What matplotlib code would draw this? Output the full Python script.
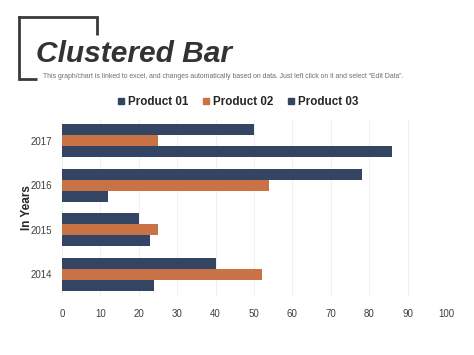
import matplotlib
matplotlib.use("Agg")
import matplotlib.pyplot as plt
from matplotlib.lines import Line2D
import numpy as np

plt.rcParams['font.family'] = ['Liberation Sans', 'DejaVu Sans']

years = ["2014", "2015", "2016", "2017"]
series_names = ["Product 01", "Product 02", "Product 03"]
product_01 = [40, 20, 78, 50]
product_02 = [52, 25, 54, 25]
product_03 = [24, 23, 12, 86]
x_ticks = [0, 10, 20, 30, 40, 50, 60, 70, 80, 90, 100]

navy = "#334563"
orange = "#C97245"
colors = [navy, orange, navy]

W, H = 474, 355
fig = plt.figure(figsize=(W / 100, H / 100), dpi=100)
fig.patch.set_facecolor("white")

# axes placement in pixels
left, right = 62, 446
top, bottom = 118.6, 296.4
ax = fig.add_axes([left / W, 1 - bottom / H, (right - left) / W, (bottom - top) / H])

pos = np.arange(len(years))
h = 0.245
data = [product_01, product_02, product_03]
offsets = [h, 0, -h]
for vals, off, c, name in zip(data, offsets, colors, series_names):
    ax.barh(pos + off, vals, height=h, color=c, label=name, zorder=3)

ax.set_xlim(0, 100)
ax.set_ylim(-0.5, 3.5)
ax.set_xticks(x_ticks)
ax.set_yticks(pos)
ax.set_yticklabels(years)
ax.tick_params(axis='both', length=0, labelsize=7, colors="#404040")
ax.tick_params(axis='x', pad=9)
ax.tick_params(axis='y', pad=7)
ax.grid(axis='x', color="#F0F0F0", linewidth=0.8, zorder=0)
for s in ax.spines.values():
    s.set_visible(False)
ax.set_ylabel("In Years", fontsize=8.5, fontweight='bold', color="#262626")
ax.yaxis.set_label_coords((33 - left) / (right - left), 0.5)

# legend
handles = [Line2D([0], [0], marker='s', color='none', markerfacecolor=c,
                  markeredgecolor=c, markersize=5) for c in colors]
fig.legend(handles, series_names, loc='center', bbox_to_anchor=(238 / W, 1 - 102 / H),
           ncol=3, frameon=False, handlelength=0.6, handletextpad=0.25,
           columnspacing=1.25, prop={'weight': 'bold', 'size': 8.4},
           labelcolor="#262626")

# title bracket
bc = "#3A3A3A"
lw = 2.0
fig.add_artist(Line2D([19 / W, 19 / W], [1 - 17 / H, 1 - 79 / H], color=bc, lw=lw, solid_capstyle='projecting'))
fig.add_artist(Line2D([19 / W, 97 / W], [1 - 17 / H, 1 - 17 / H], color=bc, lw=lw, solid_capstyle='projecting'))
fig.add_artist(Line2D([97 / W, 97 / W], [1 - 17 / H, 1 - 35 / H], color=bc, lw=lw, solid_capstyle='butt'))
fig.add_artist(Line2D([19 / W, 37 / W], [1 - 79 / H, 1 - 79 / H], color=bc, lw=lw, solid_capstyle='butt'))

fig.text(36 / W, 1 - 62 / H, "Clustered Bar", fontsize=21.5, fontweight='bold',
         fontstyle='italic', color="#333333", ha='left', va='baseline')
fig.text(43 / W, 1 - 76 / H,
         "This graph/chart is linked to excel, and changes automatically based on data. Just left click on it and select \u201cEdit Data\u201d.",
         fontsize=4.98, color="#6E6E6E", ha='left', va='center')

fig.savefig("out.png", dpi=100, facecolor="white")
